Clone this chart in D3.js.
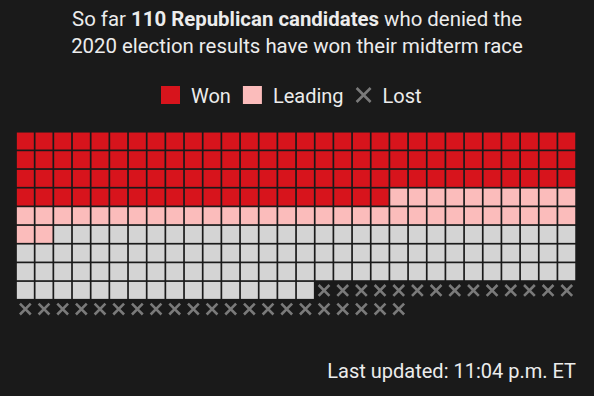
<!DOCTYPE html>
<html>
<head>
<meta charset="utf-8">
<script src="https://cdn.jsdelivr.net/npm/d3@7"></script>
<style>
  html, body { margin: 0; padding: 0; background: #1a1a1a; }
  svg { display: block; }
  text { font-family: Roboto, "Liberation Sans", sans-serif; }
</style>
</head>
<body>
<svg id="chart" width="594" height="396"></svg>
<script>
// ---- data ----
const categories = ["Won", "Leading", "Pending", "Lost"];
const counts = [110, 42, 104, 35];
const legendItems = ["Won", "Leading", "Lost"];
const titleLine1 = [
  { t: "So far ", bold: false },
  { t: "110 Republican candidates", bold: true },
  { t: " who denied the", bold: false }
];
const titleLine2 = "2020 election results have won their midterm race";
const footnote = "Last updated: 11:04 p.m. ET";

// ---- styles ----
const fills = { Won: "#d7141c", Leading: "#fbbcbb", Pending: "#d4d4d4" };
const xColor = "#7a7a7a";
const textColor = "#ececec";
const nCols = 30;

const svg = d3.select("#chart");
const W = 594, H = 396;
svg.append("rect").attr("width", W).attr("height", H).attr("fill", "#1a1a1a");

// title
const t1 = svg.append("text").attr("x", 297).attr("y", 26).attr("text-anchor", "middle")
  .attr("font-size", 20.4).attr("fill", textColor);
titleLine1.forEach(s => t1.append("tspan").attr("font-weight", s.bold ? 700 : 400).text(s.t));
svg.append("text").attr("x", 297).attr("y", 53).attr("text-anchor", "middle")
  .attr("font-size", 20.4).attr("fill", textColor).text(titleLine2);

// legend
const lg = svg.append("g");
let lx = 161;
legendItems.forEach(name => {
  if (name === "Lost") {
    const g = lg.append("g").attr("transform", `translate(${lx + 8},95)`);
    g.append("path").attr("d", "M-7,-7L7,7M-7,7L7,-7").attr("stroke", xColor)
      .attr("stroke-width", 2.6).attr("fill", "none");
    lx += 27;
  } else {
    lg.append("rect").attr("x", lx).attr("y", 86).attr("width", 19).attr("height", 18)
      .attr("fill", fills[name]);
    lx += 30;
  }
  const tx = lg.append("text").attr("x", lx).attr("y", 103).attr("font-size", 20)
    .attr("fill", textColor).text(name);
  lx += tx.node().getComputedTextLength() + 12;
});

// cells
const cells = [];
categories.forEach((c, ci) => {
  for (let i = 0; i < counts[ci]; i++) cells.push({ cat: c });
});
cells.forEach((d, i) => { d.col = i % nCols; d.row = Math.floor(i / nCols); });
const nRows = Math.ceil(cells.length / nCols);

const cellSize = 18.67;
const x = d3.scaleBand().domain(d3.range(nCols)).range([16, 16 + cellSize * nCols]).padding(0);
const y = d3.scaleBand().domain(d3.range(nRows)).range([131.7, 131.7 + cellSize * nRows]).padding(0);
const gap = 1.7;

const grid = svg.append("g");
grid.selectAll("rect").data(cells.filter(d => d.cat !== "Lost")).join("rect")
  .attr("x", d => x(d.col) + gap / 2)
  .attr("y", d => y(d.row) + gap / 2)
  .attr("width", x.bandwidth() - gap)
  .attr("height", y.bandwidth() - gap)
  .attr("fill", d => fills[d.cat]);

const xs = 5.4;
grid.selectAll("path").data(cells.filter(d => d.cat === "Lost")).join("path")
  .attr("transform", d => `translate(${x(d.col) + x.bandwidth() / 2},${y(d.row) + y.bandwidth() / 2})`)
  .attr("d", `M${-xs},${-xs}L${xs},${xs}M${-xs},${xs}L${xs},${-xs}`)
  .attr("stroke", xColor).attr("stroke-width", 2.6).attr("fill", "none");

// footnote
svg.append("text").attr("x", 576).attr("y", 378).attr("text-anchor", "end")
  .attr("font-size", 20).attr("fill", textColor).text(footnote);
</script>
</body>
</html>
